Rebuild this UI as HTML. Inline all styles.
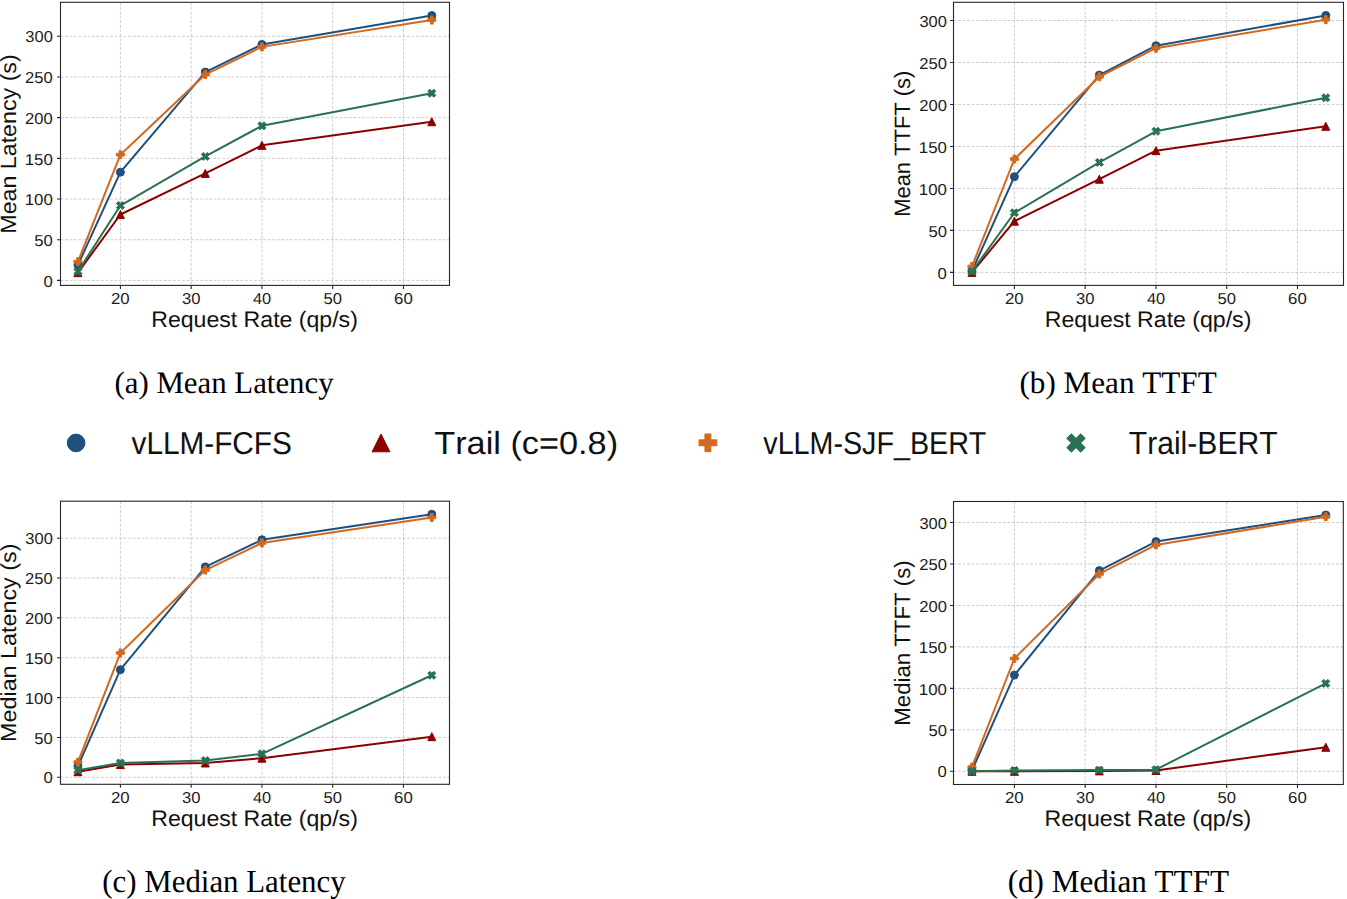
<!DOCTYPE html>
<html><head><meta charset="utf-8"><title>Figure</title>
<style>
html,body{margin:0;padding:0;background:#fff;width:1347px;height:899px;overflow:hidden}
svg{display:block}
text{font-kerning:none;white-space:pre;text-rendering:geometricPrecision}
.s{stroke:none}
</style></head><body>
<svg width="1347" height="899" viewBox="0 0 1347 899">
<rect width="1347" height="899" fill="#fff"/>
<path d="M120.40,2.30V285.40M191.17,2.30V285.40M261.94,2.30V285.40M332.71,2.30V285.40M403.48,2.30V285.40M60.50,280.40H449.50M60.50,239.72H449.50M60.50,199.03H449.50M60.50,158.35H449.50M60.50,117.67H449.50M60.50,76.98H449.50M60.50,36.30H449.50" stroke="#bcbcbc" stroke-width="0.75" stroke-dasharray="2.9,1.6" fill="none"/>
<polyline points="77.94,264.94 120.40,172.18 205.32,72.10 261.94,44.44 431.79,15.55" fill="none" stroke="#1f507e" stroke-width="2" stroke-linejoin="round" stroke-linecap="butt"/>
<circle cx="77.94" cy="264.94" r="4.00" fill="#1f507e" stroke="#1f507e" stroke-width="1.0" stroke-linejoin="miter" stroke-miterlimit="10"/>
<circle cx="120.40" cy="172.18" r="4.00" fill="#1f507e" stroke="#1f507e" stroke-width="1.0" stroke-linejoin="miter" stroke-miterlimit="10"/>
<circle cx="205.32" cy="72.10" r="4.00" fill="#1f507e" stroke="#1f507e" stroke-width="1.0" stroke-linejoin="miter" stroke-miterlimit="10"/>
<circle cx="261.94" cy="44.44" r="4.00" fill="#1f507e" stroke="#1f507e" stroke-width="1.0" stroke-linejoin="miter" stroke-miterlimit="10"/>
<circle cx="431.79" cy="15.55" r="4.00" fill="#1f507e" stroke="#1f507e" stroke-width="1.0" stroke-linejoin="miter" stroke-miterlimit="10"/>
<polyline points="77.94,272.67 120.40,214.49 205.32,173.40 261.94,145.33 431.79,121.74" fill="none" stroke="#8b0000" stroke-width="2" stroke-linejoin="round" stroke-linecap="butt"/>
<path d="M77.94,268.67L73.94,276.67L81.94,276.67Z" fill="#8b0000" stroke="#8b0000" stroke-width="1.0" stroke-linejoin="miter" stroke-miterlimit="10"/>
<path d="M120.40,210.49L116.40,218.49L124.40,218.49Z" fill="#8b0000" stroke="#8b0000" stroke-width="1.0" stroke-linejoin="miter" stroke-miterlimit="10"/>
<path d="M205.32,169.40L201.32,177.40L209.32,177.40Z" fill="#8b0000" stroke="#8b0000" stroke-width="1.0" stroke-linejoin="miter" stroke-miterlimit="10"/>
<path d="M261.94,141.33L257.94,149.33L265.94,149.33Z" fill="#8b0000" stroke="#8b0000" stroke-width="1.0" stroke-linejoin="miter" stroke-miterlimit="10"/>
<path d="M431.79,117.74L427.79,125.74L435.79,125.74Z" fill="#8b0000" stroke="#8b0000" stroke-width="1.0" stroke-linejoin="miter" stroke-miterlimit="10"/>
<polyline points="77.94,261.69 120.40,154.69 205.32,74.54 261.94,46.88 431.79,20.03" fill="none" stroke="#d2691e" stroke-width="2" stroke-linejoin="round" stroke-linecap="butt"/>
<path d="M76.60,265.69L79.27,265.69L79.27,263.02L81.94,263.02L81.94,260.35L79.27,260.35L79.27,257.69L76.60,257.69L76.60,260.35L73.94,260.35L73.94,263.02L76.60,263.02Z" fill="#d2691e" stroke="#d2691e" stroke-width="1.0" stroke-linejoin="miter" stroke-miterlimit="10"/>
<path d="M119.07,158.69L121.73,158.69L121.73,156.02L124.40,156.02L124.40,153.36L121.73,153.36L121.73,150.69L119.07,150.69L119.07,153.36L116.40,153.36L116.40,156.02L119.07,156.02Z" fill="#d2691e" stroke="#d2691e" stroke-width="1.0" stroke-linejoin="miter" stroke-miterlimit="10"/>
<path d="M203.99,78.54L206.66,78.54L206.66,75.88L209.32,75.88L209.32,73.21L206.66,73.21L206.66,70.54L203.99,70.54L203.99,73.21L201.32,73.21L201.32,75.88L203.99,75.88Z" fill="#d2691e" stroke="#d2691e" stroke-width="1.0" stroke-linejoin="miter" stroke-miterlimit="10"/>
<path d="M260.61,50.88L263.27,50.88L263.27,48.21L265.94,48.21L265.94,45.54L263.27,45.54L263.27,42.88L260.61,42.88L260.61,45.54L257.94,45.54L257.94,48.21L260.61,48.21Z" fill="#d2691e" stroke="#d2691e" stroke-width="1.0" stroke-linejoin="miter" stroke-miterlimit="10"/>
<path d="M430.45,24.03L433.12,24.03L433.12,21.36L435.79,21.36L435.79,18.69L433.12,18.69L433.12,16.03L430.45,16.03L430.45,18.69L427.79,18.69L427.79,21.36L430.45,21.36Z" fill="#d2691e" stroke="#d2691e" stroke-width="1.0" stroke-linejoin="miter" stroke-miterlimit="10"/>
<polyline points="77.94,271.45 120.40,205.54 205.32,156.40 261.94,125.80 431.79,93.26" fill="none" stroke="#2a7153" stroke-width="2" stroke-linejoin="round" stroke-linecap="butt"/>
<path d="M75.94,275.45L77.94,273.45L79.94,275.45L81.94,273.45L79.94,271.45L81.94,269.45L79.94,267.45L77.94,269.45L75.94,267.45L73.94,269.45L75.94,271.45L73.94,273.45Z" fill="#2a7153" stroke="#2a7153" stroke-width="1.0" stroke-linejoin="miter" stroke-miterlimit="10"/>
<path d="M118.40,209.54L120.40,207.54L122.40,209.54L124.40,207.54L122.40,205.54L124.40,203.54L122.40,201.54L120.40,203.54L118.40,201.54L116.40,203.54L118.40,205.54L116.40,207.54Z" fill="#2a7153" stroke="#2a7153" stroke-width="1.0" stroke-linejoin="miter" stroke-miterlimit="10"/>
<path d="M203.32,160.40L205.32,158.40L207.32,160.40L209.32,158.40L207.32,156.40L209.32,154.40L207.32,152.40L205.32,154.40L203.32,152.40L201.32,154.40L203.32,156.40L201.32,158.40Z" fill="#2a7153" stroke="#2a7153" stroke-width="1.0" stroke-linejoin="miter" stroke-miterlimit="10"/>
<path d="M259.94,129.80L261.94,127.80L263.94,129.80L265.94,127.80L263.94,125.80L265.94,123.80L263.94,121.80L261.94,123.80L259.94,121.80L257.94,123.80L259.94,125.80L257.94,127.80Z" fill="#2a7153" stroke="#2a7153" stroke-width="1.0" stroke-linejoin="miter" stroke-miterlimit="10"/>
<path d="M429.79,97.26L431.79,95.26L433.79,97.26L435.79,95.26L433.79,93.26L435.79,91.26L433.79,89.26L431.79,91.26L429.79,89.26L427.79,91.26L429.79,93.26L427.79,95.26Z" fill="#2a7153" stroke="#2a7153" stroke-width="1.0" stroke-linejoin="miter" stroke-miterlimit="10"/>
<rect x="60.50" y="2.30" width="389.00" height="283.10" fill="none" stroke="#262626" stroke-width="1.1"/>
<path d="M120.40,285.40v3.5M191.17,285.40v3.5M261.94,285.40v3.5M332.71,285.40v3.5M403.48,285.40v3.5M60.50,280.40h-3.5M60.50,239.72h-3.5M60.50,199.03h-3.5M60.50,158.35h-3.5M60.50,117.67h-3.5M60.50,76.98h-3.5M60.50,36.30h-3.5" stroke="#262626" stroke-width="1.1" fill="none"/>
<text class="s" transform="translate(110.95,303.65) scale(1.0629,1)" font-family='"Liberation Sans", sans-serif' font-size="15.82" fill="#1a1a1a">20</text>
<text class="s" transform="translate(181.94,303.65) scale(1.0504,1)" font-family='"Liberation Sans", sans-serif' font-size="15.82" fill="#1a1a1a">30</text>
<text class="s" transform="translate(252.96,303.65) scale(1.0352,1)" font-family='"Liberation Sans", sans-serif' font-size="15.82" fill="#1a1a1a">40</text>
<text class="s" transform="translate(323.44,303.65) scale(1.0524,1)" font-family='"Liberation Sans", sans-serif' font-size="15.82" fill="#1a1a1a">50</text>
<text class="s" transform="translate(394.03,303.65) scale(1.0634,1)" font-family='"Liberation Sans", sans-serif' font-size="15.82" fill="#1a1a1a">60</text>
<text class="s" transform="translate(43.50,286.55) scale(1.0579,1)" font-family='"Liberation Sans", sans-serif' font-size="15.82" fill="#1a1a1a">0</text>
<text class="s" transform="translate(34.28,245.86) scale(1.0524,1)" font-family='"Liberation Sans", sans-serif' font-size="15.82" fill="#1a1a1a">50</text>
<text class="s" transform="translate(24.67,205.18) scale(1.0663,1)" font-family='"Liberation Sans", sans-serif' font-size="15.82" fill="#1a1a1a">100</text>
<text class="s" transform="translate(24.67,164.50) scale(1.0663,1)" font-family='"Liberation Sans", sans-serif' font-size="15.82" fill="#1a1a1a">150</text>
<text class="s" transform="translate(25.12,123.81) scale(1.0488,1)" font-family='"Liberation Sans", sans-serif' font-size="15.82" fill="#1a1a1a">200</text>
<text class="s" transform="translate(25.12,83.13) scale(1.0488,1)" font-family='"Liberation Sans", sans-serif' font-size="15.82" fill="#1a1a1a">250</text>
<text class="s" transform="translate(25.32,42.45) scale(1.0408,1)" font-family='"Liberation Sans", sans-serif' font-size="15.82" fill="#1a1a1a">300</text>
<text class="s" transform="translate(151.20,326.60) scale(1.0320,1)" font-family='"Liberation Sans", sans-serif' font-size="22.38" fill="#111">Request Rate (qp/s)</text>
<text class="s" transform="translate(16.40,233.71) rotate(-90) scale(1.0519,1)" font-family='"Liberation Sans", sans-serif' font-size="22.09" fill="#111">Mean Latency (s)</text>
<text transform="translate(114.44,392.50) scale(0.9899,1)" font-family='"Liberation Serif", serif' font-size="31.16" fill="#000">(a) Mean Latency</text>
<path d="M1014.40,2.30V285.40M1085.17,2.30V285.40M1155.94,2.30V285.40M1226.71,2.30V285.40M1297.48,2.30V285.40M953.50,272.40H1343.50M953.50,230.42H1343.50M953.50,188.43H1343.50M953.50,146.45H1343.50M953.50,104.47H1343.50M953.50,62.48H1343.50M953.50,20.50H1343.50" stroke="#bcbcbc" stroke-width="0.75" stroke-dasharray="2.9,1.6" fill="none"/>
<polyline points="971.94,271.14 1014.40,176.68 1099.32,75.08 1155.94,45.69 1325.79,15.46" fill="none" stroke="#1f507e" stroke-width="2" stroke-linejoin="round" stroke-linecap="butt"/>
<circle cx="971.94" cy="271.14" r="4.00" fill="#1f507e" stroke="#1f507e" stroke-width="1.0" stroke-linejoin="miter" stroke-miterlimit="10"/>
<circle cx="1014.40" cy="176.68" r="4.00" fill="#1f507e" stroke="#1f507e" stroke-width="1.0" stroke-linejoin="miter" stroke-miterlimit="10"/>
<circle cx="1099.32" cy="75.08" r="4.00" fill="#1f507e" stroke="#1f507e" stroke-width="1.0" stroke-linejoin="miter" stroke-miterlimit="10"/>
<circle cx="1155.94" cy="45.69" r="4.00" fill="#1f507e" stroke="#1f507e" stroke-width="1.0" stroke-linejoin="miter" stroke-miterlimit="10"/>
<circle cx="1325.79" cy="15.46" r="4.00" fill="#1f507e" stroke="#1f507e" stroke-width="1.0" stroke-linejoin="miter" stroke-miterlimit="10"/>
<polyline points="971.94,272.40 1014.40,221.18 1099.32,179.20 1155.94,150.65 1325.79,126.30" fill="none" stroke="#8b0000" stroke-width="2" stroke-linejoin="round" stroke-linecap="butt"/>
<path d="M971.94,268.40L967.94,276.40L975.94,276.40Z" fill="#8b0000" stroke="#8b0000" stroke-width="1.0" stroke-linejoin="miter" stroke-miterlimit="10"/>
<path d="M1014.40,217.18L1010.40,225.18L1018.40,225.18Z" fill="#8b0000" stroke="#8b0000" stroke-width="1.0" stroke-linejoin="miter" stroke-miterlimit="10"/>
<path d="M1099.32,175.20L1095.32,183.20L1103.32,183.20Z" fill="#8b0000" stroke="#8b0000" stroke-width="1.0" stroke-linejoin="miter" stroke-miterlimit="10"/>
<path d="M1155.94,146.65L1151.94,154.65L1159.94,154.65Z" fill="#8b0000" stroke="#8b0000" stroke-width="1.0" stroke-linejoin="miter" stroke-miterlimit="10"/>
<path d="M1325.79,122.30L1321.79,130.30L1329.79,130.30Z" fill="#8b0000" stroke="#8b0000" stroke-width="1.0" stroke-linejoin="miter" stroke-miterlimit="10"/>
<polyline points="971.94,266.52 1014.40,159.04 1099.32,76.76 1155.94,48.21 1325.79,19.66" fill="none" stroke="#d2691e" stroke-width="2" stroke-linejoin="round" stroke-linecap="butt"/>
<path d="M970.60,270.52L973.27,270.52L973.27,267.86L975.94,267.86L975.94,265.19L973.27,265.19L973.27,262.52L970.60,262.52L970.60,265.19L967.94,265.19L967.94,267.86L970.60,267.86Z" fill="#d2691e" stroke="#d2691e" stroke-width="1.0" stroke-linejoin="miter" stroke-miterlimit="10"/>
<path d="M1013.07,163.04L1015.73,163.04L1015.73,160.38L1018.40,160.38L1018.40,157.71L1015.73,157.71L1015.73,155.04L1013.07,155.04L1013.07,157.71L1010.40,157.71L1010.40,160.38L1013.07,160.38Z" fill="#d2691e" stroke="#d2691e" stroke-width="1.0" stroke-linejoin="miter" stroke-miterlimit="10"/>
<path d="M1097.99,80.76L1100.66,80.76L1100.66,78.09L1103.32,78.09L1103.32,75.42L1100.66,75.42L1100.66,72.76L1097.99,72.76L1097.99,75.42L1095.32,75.42L1095.32,78.09L1097.99,78.09Z" fill="#d2691e" stroke="#d2691e" stroke-width="1.0" stroke-linejoin="miter" stroke-miterlimit="10"/>
<path d="M1154.61,52.21L1157.27,52.21L1157.27,49.54L1159.94,49.54L1159.94,46.88L1157.27,46.88L1157.27,44.21L1154.61,44.21L1154.61,46.88L1151.94,46.88L1151.94,49.54L1154.61,49.54Z" fill="#d2691e" stroke="#d2691e" stroke-width="1.0" stroke-linejoin="miter" stroke-miterlimit="10"/>
<path d="M1324.45,23.66L1327.12,23.66L1327.12,20.99L1329.79,20.99L1329.79,18.33L1327.12,18.33L1327.12,15.66L1324.45,15.66L1324.45,18.33L1321.79,18.33L1321.79,20.99L1324.45,20.99Z" fill="#d2691e" stroke="#d2691e" stroke-width="1.0" stroke-linejoin="miter" stroke-miterlimit="10"/>
<polyline points="971.94,271.56 1014.40,212.78 1099.32,162.40 1155.94,131.34 1325.79,97.75" fill="none" stroke="#2a7153" stroke-width="2" stroke-linejoin="round" stroke-linecap="butt"/>
<path d="M969.94,275.56L971.94,273.56L973.94,275.56L975.94,273.56L973.94,271.56L975.94,269.56L973.94,267.56L971.94,269.56L969.94,267.56L967.94,269.56L969.94,271.56L967.94,273.56Z" fill="#2a7153" stroke="#2a7153" stroke-width="1.0" stroke-linejoin="miter" stroke-miterlimit="10"/>
<path d="M1012.40,216.78L1014.40,214.78L1016.40,216.78L1018.40,214.78L1016.40,212.78L1018.40,210.78L1016.40,208.78L1014.40,210.78L1012.40,208.78L1010.40,210.78L1012.40,212.78L1010.40,214.78Z" fill="#2a7153" stroke="#2a7153" stroke-width="1.0" stroke-linejoin="miter" stroke-miterlimit="10"/>
<path d="M1097.32,166.40L1099.32,164.40L1101.32,166.40L1103.32,164.40L1101.32,162.40L1103.32,160.40L1101.32,158.40L1099.32,160.40L1097.32,158.40L1095.32,160.40L1097.32,162.40L1095.32,164.40Z" fill="#2a7153" stroke="#2a7153" stroke-width="1.0" stroke-linejoin="miter" stroke-miterlimit="10"/>
<path d="M1153.94,135.34L1155.94,133.34L1157.94,135.34L1159.94,133.34L1157.94,131.34L1159.94,129.34L1157.94,127.34L1155.94,129.34L1153.94,127.34L1151.94,129.34L1153.94,131.34L1151.94,133.34Z" fill="#2a7153" stroke="#2a7153" stroke-width="1.0" stroke-linejoin="miter" stroke-miterlimit="10"/>
<path d="M1323.79,101.75L1325.79,99.75L1327.79,101.75L1329.79,99.75L1327.79,97.75L1329.79,95.75L1327.79,93.75L1325.79,95.75L1323.79,93.75L1321.79,95.75L1323.79,97.75L1321.79,99.75Z" fill="#2a7153" stroke="#2a7153" stroke-width="1.0" stroke-linejoin="miter" stroke-miterlimit="10"/>
<rect x="953.50" y="2.30" width="390.00" height="283.10" fill="none" stroke="#262626" stroke-width="1.1"/>
<path d="M1014.40,285.40v3.5M1085.17,285.40v3.5M1155.94,285.40v3.5M1226.71,285.40v3.5M1297.48,285.40v3.5M953.50,272.40h-3.5M953.50,230.42h-3.5M953.50,188.43h-3.5M953.50,146.45h-3.5M953.50,104.47h-3.5M953.50,62.48h-3.5M953.50,20.50h-3.5" stroke="#262626" stroke-width="1.1" fill="none"/>
<text class="s" transform="translate(1004.95,303.65) scale(1.0629,1)" font-family='"Liberation Sans", sans-serif' font-size="15.82" fill="#1a1a1a">20</text>
<text class="s" transform="translate(1075.94,303.65) scale(1.0504,1)" font-family='"Liberation Sans", sans-serif' font-size="15.82" fill="#1a1a1a">30</text>
<text class="s" transform="translate(1146.96,303.65) scale(1.0352,1)" font-family='"Liberation Sans", sans-serif' font-size="15.82" fill="#1a1a1a">40</text>
<text class="s" transform="translate(1217.44,303.65) scale(1.0524,1)" font-family='"Liberation Sans", sans-serif' font-size="15.82" fill="#1a1a1a">50</text>
<text class="s" transform="translate(1288.03,303.65) scale(1.0634,1)" font-family='"Liberation Sans", sans-serif' font-size="15.82" fill="#1a1a1a">60</text>
<text class="s" transform="translate(937.60,278.55) scale(1.0579,1)" font-family='"Liberation Sans", sans-serif' font-size="15.82" fill="#1a1a1a">0</text>
<text class="s" transform="translate(928.38,236.56) scale(1.0524,1)" font-family='"Liberation Sans", sans-serif' font-size="15.82" fill="#1a1a1a">50</text>
<text class="s" transform="translate(918.77,194.58) scale(1.0663,1)" font-family='"Liberation Sans", sans-serif' font-size="15.82" fill="#1a1a1a">100</text>
<text class="s" transform="translate(918.77,152.60) scale(1.0663,1)" font-family='"Liberation Sans", sans-serif' font-size="15.82" fill="#1a1a1a">150</text>
<text class="s" transform="translate(919.22,110.61) scale(1.0488,1)" font-family='"Liberation Sans", sans-serif' font-size="15.82" fill="#1a1a1a">200</text>
<text class="s" transform="translate(919.22,68.63) scale(1.0488,1)" font-family='"Liberation Sans", sans-serif' font-size="15.82" fill="#1a1a1a">250</text>
<text class="s" transform="translate(919.42,26.65) scale(1.0408,1)" font-family='"Liberation Sans", sans-serif' font-size="15.82" fill="#1a1a1a">300</text>
<text class="s" transform="translate(1044.70,326.60) scale(1.0320,1)" font-family='"Liberation Sans", sans-serif' font-size="22.38" fill="#111">Request Rate (qp/s)</text>
<text class="s" transform="translate(910.30,216.80) rotate(-90) scale(0.9859,1)" font-family='"Liberation Sans", sans-serif' font-size="22.24" fill="#111">Mean TTFT (s)</text>
<text transform="translate(1019.43,392.50) scale(1.0001,1)" font-family='"Liberation Serif", serif' font-size="31.16" fill="#000">(b) Mean TTFT</text>
<path d="M120.40,501.20V784.30M191.17,501.20V784.30M261.94,501.20V784.30M332.71,501.20V784.30M403.48,501.20V784.30M60.50,777.30H449.50M60.50,737.45H449.50M60.50,697.60H449.50M60.50,657.75H449.50M60.50,617.90H449.50M60.50,578.05H449.50M60.50,538.20H449.50" stroke="#bcbcbc" stroke-width="0.75" stroke-dasharray="2.9,1.6" fill="none"/>
<polyline points="77.94,766.14 120.40,669.71 205.32,566.89 261.94,539.79 431.79,514.29" fill="none" stroke="#1f507e" stroke-width="2" stroke-linejoin="round" stroke-linecap="butt"/>
<circle cx="77.94" cy="766.14" r="4.00" fill="#1f507e" stroke="#1f507e" stroke-width="1.0" stroke-linejoin="miter" stroke-miterlimit="10"/>
<circle cx="120.40" cy="669.71" r="4.00" fill="#1f507e" stroke="#1f507e" stroke-width="1.0" stroke-linejoin="miter" stroke-miterlimit="10"/>
<circle cx="205.32" cy="566.89" r="4.00" fill="#1f507e" stroke="#1f507e" stroke-width="1.0" stroke-linejoin="miter" stroke-miterlimit="10"/>
<circle cx="261.94" cy="539.79" r="4.00" fill="#1f507e" stroke="#1f507e" stroke-width="1.0" stroke-linejoin="miter" stroke-miterlimit="10"/>
<circle cx="431.79" cy="514.29" r="4.00" fill="#1f507e" stroke="#1f507e" stroke-width="1.0" stroke-linejoin="miter" stroke-miterlimit="10"/>
<polyline points="77.94,771.72 120.40,764.55 205.32,762.95 261.94,758.17 431.79,736.65" fill="none" stroke="#8b0000" stroke-width="2" stroke-linejoin="round" stroke-linecap="butt"/>
<path d="M77.94,767.72L73.94,775.72L81.94,775.72Z" fill="#8b0000" stroke="#8b0000" stroke-width="1.0" stroke-linejoin="miter" stroke-miterlimit="10"/>
<path d="M120.40,760.55L116.40,768.55L124.40,768.55Z" fill="#8b0000" stroke="#8b0000" stroke-width="1.0" stroke-linejoin="miter" stroke-miterlimit="10"/>
<path d="M205.32,758.95L201.32,766.95L209.32,766.95Z" fill="#8b0000" stroke="#8b0000" stroke-width="1.0" stroke-linejoin="miter" stroke-miterlimit="10"/>
<path d="M261.94,754.17L257.94,762.17L265.94,762.17Z" fill="#8b0000" stroke="#8b0000" stroke-width="1.0" stroke-linejoin="miter" stroke-miterlimit="10"/>
<path d="M431.79,732.65L427.79,740.65L435.79,740.65Z" fill="#8b0000" stroke="#8b0000" stroke-width="1.0" stroke-linejoin="miter" stroke-miterlimit="10"/>
<polyline points="77.94,762.16 120.40,652.97 205.32,570.08 261.94,542.98 431.79,517.48" fill="none" stroke="#d2691e" stroke-width="2" stroke-linejoin="round" stroke-linecap="butt"/>
<path d="M76.60,766.16L79.27,766.16L79.27,763.49L81.94,763.49L81.94,760.82L79.27,760.82L79.27,758.16L76.60,758.16L76.60,760.82L73.94,760.82L73.94,763.49L76.60,763.49Z" fill="#d2691e" stroke="#d2691e" stroke-width="1.0" stroke-linejoin="miter" stroke-miterlimit="10"/>
<path d="M119.07,656.97L121.73,656.97L121.73,654.30L124.40,654.30L124.40,651.63L121.73,651.63L121.73,648.97L119.07,648.97L119.07,651.63L116.40,651.63L116.40,654.30L119.07,654.30Z" fill="#d2691e" stroke="#d2691e" stroke-width="1.0" stroke-linejoin="miter" stroke-miterlimit="10"/>
<path d="M203.99,574.08L206.66,574.08L206.66,571.41L209.32,571.41L209.32,568.75L206.66,568.75L206.66,566.08L203.99,566.08L203.99,568.75L201.32,568.75L201.32,571.41L203.99,571.41Z" fill="#d2691e" stroke="#d2691e" stroke-width="1.0" stroke-linejoin="miter" stroke-miterlimit="10"/>
<path d="M260.61,546.98L263.27,546.98L263.27,544.32L265.94,544.32L265.94,541.65L263.27,541.65L263.27,538.98L260.61,538.98L260.61,541.65L257.94,541.65L257.94,544.32L260.61,544.32Z" fill="#d2691e" stroke="#d2691e" stroke-width="1.0" stroke-linejoin="miter" stroke-miterlimit="10"/>
<path d="M430.45,521.48L433.12,521.48L433.12,518.81L435.79,518.81L435.79,516.14L433.12,516.14L433.12,513.48L430.45,513.48L430.45,516.14L427.79,516.14L427.79,518.81L430.45,518.81Z" fill="#d2691e" stroke="#d2691e" stroke-width="1.0" stroke-linejoin="miter" stroke-miterlimit="10"/>
<polyline points="77.94,770.13 120.40,762.95 205.32,760.56 261.94,753.79 431.79,675.28" fill="none" stroke="#2a7153" stroke-width="2" stroke-linejoin="round" stroke-linecap="butt"/>
<path d="M75.94,774.13L77.94,772.13L79.94,774.13L81.94,772.13L79.94,770.13L81.94,768.13L79.94,766.13L77.94,768.13L75.94,766.13L73.94,768.13L75.94,770.13L73.94,772.13Z" fill="#2a7153" stroke="#2a7153" stroke-width="1.0" stroke-linejoin="miter" stroke-miterlimit="10"/>
<path d="M118.40,766.95L120.40,764.95L122.40,766.95L124.40,764.95L122.40,762.95L124.40,760.95L122.40,758.95L120.40,760.95L118.40,758.95L116.40,760.95L118.40,762.95L116.40,764.95Z" fill="#2a7153" stroke="#2a7153" stroke-width="1.0" stroke-linejoin="miter" stroke-miterlimit="10"/>
<path d="M203.32,764.56L205.32,762.56L207.32,764.56L209.32,762.56L207.32,760.56L209.32,758.56L207.32,756.56L205.32,758.56L203.32,756.56L201.32,758.56L203.32,760.56L201.32,762.56Z" fill="#2a7153" stroke="#2a7153" stroke-width="1.0" stroke-linejoin="miter" stroke-miterlimit="10"/>
<path d="M259.94,757.79L261.94,755.79L263.94,757.79L265.94,755.79L263.94,753.79L265.94,751.79L263.94,749.79L261.94,751.79L259.94,749.79L257.94,751.79L259.94,753.79L257.94,755.79Z" fill="#2a7153" stroke="#2a7153" stroke-width="1.0" stroke-linejoin="miter" stroke-miterlimit="10"/>
<path d="M429.79,679.28L431.79,677.28L433.79,679.28L435.79,677.28L433.79,675.28L435.79,673.28L433.79,671.28L431.79,673.28L429.79,671.28L427.79,673.28L429.79,675.28L427.79,677.28Z" fill="#2a7153" stroke="#2a7153" stroke-width="1.0" stroke-linejoin="miter" stroke-miterlimit="10"/>
<rect x="60.50" y="501.20" width="389.00" height="283.10" fill="none" stroke="#262626" stroke-width="1.1"/>
<path d="M120.40,784.30v3.5M191.17,784.30v3.5M261.94,784.30v3.5M332.71,784.30v3.5M403.48,784.30v3.5M60.50,777.30h-3.5M60.50,737.45h-3.5M60.50,697.60h-3.5M60.50,657.75h-3.5M60.50,617.90h-3.5M60.50,578.05h-3.5M60.50,538.20h-3.5" stroke="#262626" stroke-width="1.1" fill="none"/>
<text class="s" transform="translate(110.95,802.95) scale(1.0629,1)" font-family='"Liberation Sans", sans-serif' font-size="15.82" fill="#1a1a1a">20</text>
<text class="s" transform="translate(181.94,802.95) scale(1.0504,1)" font-family='"Liberation Sans", sans-serif' font-size="15.82" fill="#1a1a1a">30</text>
<text class="s" transform="translate(252.96,802.95) scale(1.0352,1)" font-family='"Liberation Sans", sans-serif' font-size="15.82" fill="#1a1a1a">40</text>
<text class="s" transform="translate(323.44,802.95) scale(1.0524,1)" font-family='"Liberation Sans", sans-serif' font-size="15.82" fill="#1a1a1a">50</text>
<text class="s" transform="translate(394.03,802.95) scale(1.0634,1)" font-family='"Liberation Sans", sans-serif' font-size="15.82" fill="#1a1a1a">60</text>
<text class="s" transform="translate(43.50,783.45) scale(1.0579,1)" font-family='"Liberation Sans", sans-serif' font-size="15.82" fill="#1a1a1a">0</text>
<text class="s" transform="translate(34.28,743.60) scale(1.0524,1)" font-family='"Liberation Sans", sans-serif' font-size="15.82" fill="#1a1a1a">50</text>
<text class="s" transform="translate(24.67,703.75) scale(1.0663,1)" font-family='"Liberation Sans", sans-serif' font-size="15.82" fill="#1a1a1a">100</text>
<text class="s" transform="translate(24.67,663.90) scale(1.0663,1)" font-family='"Liberation Sans", sans-serif' font-size="15.82" fill="#1a1a1a">150</text>
<text class="s" transform="translate(25.12,624.05) scale(1.0488,1)" font-family='"Liberation Sans", sans-serif' font-size="15.82" fill="#1a1a1a">200</text>
<text class="s" transform="translate(25.12,584.20) scale(1.0488,1)" font-family='"Liberation Sans", sans-serif' font-size="15.82" fill="#1a1a1a">250</text>
<text class="s" transform="translate(25.32,544.35) scale(1.0408,1)" font-family='"Liberation Sans", sans-serif' font-size="15.82" fill="#1a1a1a">300</text>
<text class="s" transform="translate(151.20,825.50) scale(1.0320,1)" font-family='"Liberation Sans", sans-serif' font-size="22.38" fill="#111">Request Rate (qp/s)</text>
<text class="s" transform="translate(16.40,741.91) rotate(-90) scale(1.0699,1)" font-family='"Liberation Sans", sans-serif' font-size="21.80" fill="#111">Median Latency (s)</text>
<text transform="translate(102.24,892.10) scale(0.9583,1)" font-family='"Liberation Serif", serif' font-size="32.22" fill="#000">(c) Median Latency</text>
<path d="M1014.40,501.50V784.50M1085.17,501.50V784.50M1155.94,501.50V784.50M1226.71,501.50V784.50M1297.48,501.50V784.50M953.50,771.30H1343.30M953.50,729.83H1343.30M953.50,688.37H1343.30M953.50,646.90H1343.30M953.50,605.43H1343.30M953.50,563.97H1343.30M953.50,522.50H1343.30" stroke="#bcbcbc" stroke-width="0.75" stroke-dasharray="2.9,1.6" fill="none"/>
<polyline points="971.94,770.47 1014.40,675.10 1099.32,570.60 1155.94,541.57 1325.79,515.04" fill="none" stroke="#1f507e" stroke-width="2" stroke-linejoin="round" stroke-linecap="butt"/>
<circle cx="971.94" cy="770.47" r="4.00" fill="#1f507e" stroke="#1f507e" stroke-width="1.0" stroke-linejoin="miter" stroke-miterlimit="10"/>
<circle cx="1014.40" cy="675.10" r="4.00" fill="#1f507e" stroke="#1f507e" stroke-width="1.0" stroke-linejoin="miter" stroke-miterlimit="10"/>
<circle cx="1099.32" cy="570.60" r="4.00" fill="#1f507e" stroke="#1f507e" stroke-width="1.0" stroke-linejoin="miter" stroke-miterlimit="10"/>
<circle cx="1155.94" cy="541.57" r="4.00" fill="#1f507e" stroke="#1f507e" stroke-width="1.0" stroke-linejoin="miter" stroke-miterlimit="10"/>
<circle cx="1325.79" cy="515.04" r="4.00" fill="#1f507e" stroke="#1f507e" stroke-width="1.0" stroke-linejoin="miter" stroke-miterlimit="10"/>
<polyline points="971.94,771.30 1014.40,771.30 1099.32,770.89 1155.94,770.47 1325.79,747.25" fill="none" stroke="#8b0000" stroke-width="2" stroke-linejoin="round" stroke-linecap="butt"/>
<path d="M971.94,767.30L967.94,775.30L975.94,775.30Z" fill="#8b0000" stroke="#8b0000" stroke-width="1.0" stroke-linejoin="miter" stroke-miterlimit="10"/>
<path d="M1014.40,767.30L1010.40,775.30L1018.40,775.30Z" fill="#8b0000" stroke="#8b0000" stroke-width="1.0" stroke-linejoin="miter" stroke-miterlimit="10"/>
<path d="M1099.32,766.89L1095.32,774.89L1103.32,774.89Z" fill="#8b0000" stroke="#8b0000" stroke-width="1.0" stroke-linejoin="miter" stroke-miterlimit="10"/>
<path d="M1155.94,766.47L1151.94,774.47L1159.94,774.47Z" fill="#8b0000" stroke="#8b0000" stroke-width="1.0" stroke-linejoin="miter" stroke-miterlimit="10"/>
<path d="M1325.79,743.25L1321.79,751.25L1329.79,751.25Z" fill="#8b0000" stroke="#8b0000" stroke-width="1.0" stroke-linejoin="miter" stroke-miterlimit="10"/>
<polyline points="971.94,767.15 1014.40,658.51 1099.32,573.92 1155.94,544.89 1325.79,516.69" fill="none" stroke="#d2691e" stroke-width="2" stroke-linejoin="round" stroke-linecap="butt"/>
<path d="M970.60,771.15L973.27,771.15L973.27,768.49L975.94,768.49L975.94,765.82L973.27,765.82L973.27,763.15L970.60,763.15L970.60,765.82L967.94,765.82L967.94,768.49L970.60,768.49Z" fill="#d2691e" stroke="#d2691e" stroke-width="1.0" stroke-linejoin="miter" stroke-miterlimit="10"/>
<path d="M1013.07,662.51L1015.73,662.51L1015.73,659.84L1018.40,659.84L1018.40,657.18L1015.73,657.18L1015.73,654.51L1013.07,654.51L1013.07,657.18L1010.40,657.18L1010.40,659.84L1013.07,659.84Z" fill="#d2691e" stroke="#d2691e" stroke-width="1.0" stroke-linejoin="miter" stroke-miterlimit="10"/>
<path d="M1097.99,577.92L1100.66,577.92L1100.66,575.25L1103.32,575.25L1103.32,572.59L1100.66,572.59L1100.66,569.92L1097.99,569.92L1097.99,572.59L1095.32,572.59L1095.32,575.25L1097.99,575.25Z" fill="#d2691e" stroke="#d2691e" stroke-width="1.0" stroke-linejoin="miter" stroke-miterlimit="10"/>
<path d="M1154.61,548.89L1157.27,548.89L1157.27,546.23L1159.94,546.23L1159.94,543.56L1157.27,543.56L1157.27,540.89L1154.61,540.89L1154.61,543.56L1151.94,543.56L1151.94,546.23L1154.61,546.23Z" fill="#d2691e" stroke="#d2691e" stroke-width="1.0" stroke-linejoin="miter" stroke-miterlimit="10"/>
<path d="M1324.45,520.69L1327.12,520.69L1327.12,518.03L1329.79,518.03L1329.79,515.36L1327.12,515.36L1327.12,512.69L1324.45,512.69L1324.45,515.36L1321.79,515.36L1321.79,518.03L1324.45,518.03Z" fill="#d2691e" stroke="#d2691e" stroke-width="1.0" stroke-linejoin="miter" stroke-miterlimit="10"/>
<polyline points="971.94,771.30 1014.40,770.47 1099.32,770.06 1155.94,769.64 1325.79,683.39" fill="none" stroke="#2a7153" stroke-width="2" stroke-linejoin="round" stroke-linecap="butt"/>
<path d="M969.94,775.30L971.94,773.30L973.94,775.30L975.94,773.30L973.94,771.30L975.94,769.30L973.94,767.30L971.94,769.30L969.94,767.30L967.94,769.30L969.94,771.30L967.94,773.30Z" fill="#2a7153" stroke="#2a7153" stroke-width="1.0" stroke-linejoin="miter" stroke-miterlimit="10"/>
<path d="M1012.40,774.47L1014.40,772.47L1016.40,774.47L1018.40,772.47L1016.40,770.47L1018.40,768.47L1016.40,766.47L1014.40,768.47L1012.40,766.47L1010.40,768.47L1012.40,770.47L1010.40,772.47Z" fill="#2a7153" stroke="#2a7153" stroke-width="1.0" stroke-linejoin="miter" stroke-miterlimit="10"/>
<path d="M1097.32,774.06L1099.32,772.06L1101.32,774.06L1103.32,772.06L1101.32,770.06L1103.32,768.06L1101.32,766.06L1099.32,768.06L1097.32,766.06L1095.32,768.06L1097.32,770.06L1095.32,772.06Z" fill="#2a7153" stroke="#2a7153" stroke-width="1.0" stroke-linejoin="miter" stroke-miterlimit="10"/>
<path d="M1153.94,773.64L1155.94,771.64L1157.94,773.64L1159.94,771.64L1157.94,769.64L1159.94,767.64L1157.94,765.64L1155.94,767.64L1153.94,765.64L1151.94,767.64L1153.94,769.64L1151.94,771.64Z" fill="#2a7153" stroke="#2a7153" stroke-width="1.0" stroke-linejoin="miter" stroke-miterlimit="10"/>
<path d="M1323.79,687.39L1325.79,685.39L1327.79,687.39L1329.79,685.39L1327.79,683.39L1329.79,681.39L1327.79,679.39L1325.79,681.39L1323.79,679.39L1321.79,681.39L1323.79,683.39L1321.79,685.39Z" fill="#2a7153" stroke="#2a7153" stroke-width="1.0" stroke-linejoin="miter" stroke-miterlimit="10"/>
<rect x="953.50" y="501.50" width="389.80" height="283.00" fill="none" stroke="#262626" stroke-width="1.1"/>
<path d="M1014.40,784.50v3.5M1085.17,784.50v3.5M1155.94,784.50v3.5M1226.71,784.50v3.5M1297.48,784.50v3.5M953.50,771.30h-3.5M953.50,729.83h-3.5M953.50,688.37h-3.5M953.50,646.90h-3.5M953.50,605.43h-3.5M953.50,563.97h-3.5M953.50,522.50h-3.5" stroke="#262626" stroke-width="1.1" fill="none"/>
<text class="s" transform="translate(1004.95,802.95) scale(1.0629,1)" font-family='"Liberation Sans", sans-serif' font-size="15.82" fill="#1a1a1a">20</text>
<text class="s" transform="translate(1075.94,802.95) scale(1.0504,1)" font-family='"Liberation Sans", sans-serif' font-size="15.82" fill="#1a1a1a">30</text>
<text class="s" transform="translate(1146.96,802.95) scale(1.0352,1)" font-family='"Liberation Sans", sans-serif' font-size="15.82" fill="#1a1a1a">40</text>
<text class="s" transform="translate(1217.44,802.95) scale(1.0524,1)" font-family='"Liberation Sans", sans-serif' font-size="15.82" fill="#1a1a1a">50</text>
<text class="s" transform="translate(1288.03,802.95) scale(1.0634,1)" font-family='"Liberation Sans", sans-serif' font-size="15.82" fill="#1a1a1a">60</text>
<text class="s" transform="translate(937.60,777.45) scale(1.0579,1)" font-family='"Liberation Sans", sans-serif' font-size="15.82" fill="#1a1a1a">0</text>
<text class="s" transform="translate(928.38,735.98) scale(1.0524,1)" font-family='"Liberation Sans", sans-serif' font-size="15.82" fill="#1a1a1a">50</text>
<text class="s" transform="translate(918.77,694.51) scale(1.0663,1)" font-family='"Liberation Sans", sans-serif' font-size="15.82" fill="#1a1a1a">100</text>
<text class="s" transform="translate(918.77,653.05) scale(1.0663,1)" font-family='"Liberation Sans", sans-serif' font-size="15.82" fill="#1a1a1a">150</text>
<text class="s" transform="translate(919.22,611.58) scale(1.0488,1)" font-family='"Liberation Sans", sans-serif' font-size="15.82" fill="#1a1a1a">200</text>
<text class="s" transform="translate(919.22,570.11) scale(1.0488,1)" font-family='"Liberation Sans", sans-serif' font-size="15.82" fill="#1a1a1a">250</text>
<text class="s" transform="translate(919.42,528.65) scale(1.0408,1)" font-family='"Liberation Sans", sans-serif' font-size="15.82" fill="#1a1a1a">300</text>
<text class="s" transform="translate(1044.60,825.70) scale(1.0320,1)" font-family='"Liberation Sans", sans-serif' font-size="22.38" fill="#111">Request Rate (qp/s)</text>
<text class="s" transform="translate(910.30,725.72) rotate(-90) scale(0.9990,1)" font-family='"Liberation Sans", sans-serif' font-size="22.24" fill="#111">Median TTFT (s)</text>
<text transform="translate(1007.63,892.00) scale(0.9710,1)" font-family='"Liberation Serif", serif' font-size="32.07" fill="#000">(d) Median TTFT</text>
<circle cx="76.10" cy="442.90" r="8.85" fill="#1f507e" stroke="#1f507e" stroke-width="1.0" stroke-linejoin="miter" stroke-miterlimit="10"/>
<path d="M381.00,434.00L372.10,451.80L389.90,451.80Z" fill="#8b0000" stroke="#8b0000" stroke-width="1.0" stroke-linejoin="miter" stroke-miterlimit="10"/>
<path d="M704.95,451.65L710.85,451.65L710.85,445.75L716.75,445.75L716.75,439.85L710.85,439.85L710.85,433.95L704.95,433.95L704.95,439.85L699.05,439.85L699.05,445.75L704.95,445.75Z" fill="#d2691e" stroke="#d2691e" stroke-width="1.0" stroke-linejoin="miter" stroke-miterlimit="10"/>
<path d="M1071.38,452.25L1076.00,447.62L1080.62,452.25L1085.25,447.62L1080.62,443.00L1085.25,438.38L1080.62,433.75L1076.00,438.38L1071.38,433.75L1066.75,438.38L1071.38,443.00L1066.75,447.62Z" fill="#2a7153" stroke="#2a7153" stroke-width="1.0" stroke-linejoin="miter" stroke-miterlimit="10"/>
<text class="s" transform="translate(131.50,453.70) scale(0.9391,1)" font-family='"Liberation Sans", sans-serif' font-size="31.69" fill="#111">vLLM-FCFS</text>
<text class="s" transform="translate(434.23,453.80) scale(1.0725,1)" font-family='"Liberation Sans", sans-serif' font-size="31.98" fill="#111">Trail (c=0.8)</text>
<text class="s" transform="translate(763.30,453.70) scale(0.9049,1)" font-family='"Liberation Sans", sans-serif' font-size="31.69" fill="#111">vLLM-SJF_BERT</text>
<text class="s" transform="translate(1128.82,453.70) scale(0.9367,1)" font-family='"Liberation Sans", sans-serif' font-size="32.12" fill="#111">Trail-BERT</text>
</svg>
</body></html>
